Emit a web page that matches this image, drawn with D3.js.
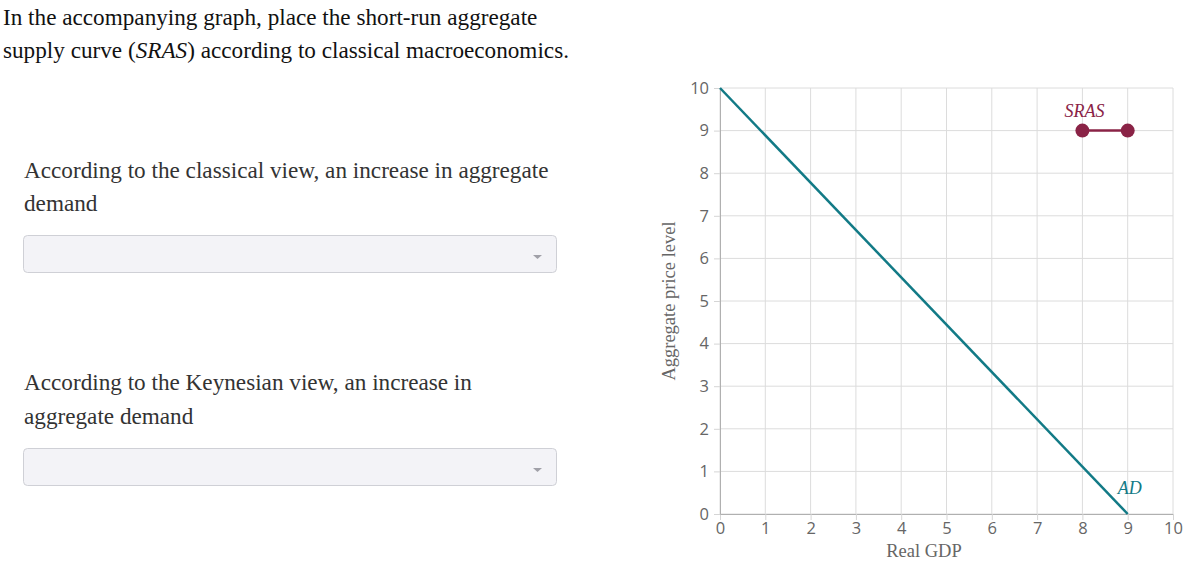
<!DOCTYPE html>
<html>
<head>
<meta charset="utf-8">
<script src="https://cdn.jsdelivr.net/npm/d3@7"></script>
<style>
  html, body { margin: 0; padding: 0; background: #fff; }
  svg { display: block; }
</style>
</head>
<body>
<svg id="chart" width="1200" height="586"></svg>
<script>
// ---- data ----
const xTickValues = [0, 1, 2, 3, 4, 5, 6, 7, 8, 9, 10];
const yTickValues = [0, 1, 2, 3, 4, 5, 6, 7, 8, 9, 10];
const adX = [0, 9];
const adY = [10, 0];
const srasX = [8, 9];
const srasY = [9, 9];
const xTitle = "Real GDP";
const yTitle = "Aggregate price level";
const promptLines = ["In the accompanying graph, place the short-run aggregate",
                     "supply curve (|SRAS|) according to classical macroeconomics."];
const q1Lines = ["According to the classical view, an increase in aggregate", "demand"];
const q2Lines = ["According to the Keynesian view, an increase in", "aggregate demand"];

const svg = d3.select("#chart");
const serif = "'Liberation Serif', 'Times New Roman', serif";
const sans = "'Open Sans', 'DejaVu Sans', sans-serif";

// ---- left text ----
function writeLine(y, x, str, color) {
  const t = svg.append("text").attr("x", x).attr("y", y)
    .attr("font-family", serif).attr("font-size", 23.2).attr("fill", color);
  str.split("|").forEach((part, i) => {
    t.append("tspan").text(part).attr("font-style", i % 2 === 1 ? "italic" : "normal");
  });
}
writeLine(25, 3, promptLines[0], "#111");
writeLine(58, 3, promptLines[1], "#111");
writeLine(178, 24, q1Lines[0], "#333");
writeLine(211, 24, q1Lines[1], "#333");
writeLine(390, 24, q2Lines[0], "#333");
writeLine(424, 24, q2Lines[1], "#333");

function dropdown(y) {
  svg.append("rect").attr("x", 23.5).attr("y", y + 0.5).attr("width", 533).attr("height", 37)
    .attr("rx", 4).attr("fill", "#f3f3f7").attr("stroke", "#cfd0d6");
  svg.append("path").attr("d", `M533,${y + 20} l9,0 l-4.5,4 z`).attr("fill", "#a0a0a8");
}
dropdown(235);
dropdown(448);

// ---- chart ----
const x = d3.scaleLinear().domain([0, 10]).range([720, 1173]);
const y = d3.scaleLinear().domain([0, 10]).range([514, 88]);

const g = svg.append("g");
// grid
g.selectAll(".vg").data(xTickValues).enter().append("line")
  .attr("x1", d => x(d)).attr("x2", d => x(d)).attr("y1", y(0)).attr("y2", y(10))
  .attr("stroke", "#dcdcdc").attr("stroke-width", 1);
g.selectAll(".hg").data(yTickValues).enter().append("line")
  .attr("x1", x(0)).attr("x2", x(10)).attr("y1", d => y(d)).attr("y2", d => y(d))
  .attr("stroke", "#dcdcdc").attr("stroke-width", 1);

// axes
const xAxis = d3.axisBottom(x).tickValues(xTickValues).tickSize(6).tickPadding(2);
const yAxis = d3.axisLeft(y).tickValues(yTickValues).tickSize(6).tickPadding(5);
const gx = svg.append("g").attr("transform", `translate(0,${y(0)})`).call(xAxis);
const gy = svg.append("g").attr("transform", `translate(${x(0)},0)`).call(yAxis);
[gx, gy].forEach(a => {
  a.select(".domain").attr("stroke", "#b0b0b0");
  a.selectAll(".tick line").attr("stroke", "#d5d5d5");
  a.selectAll(".tick text").attr("fill", "#666").attr("font-family", sans).attr("font-size", 16.5);
});

// axis titles
svg.append("text").attr("x", 924).attr("y", 557).attr("text-anchor", "middle")
  .attr("font-family", serif).attr("font-size", 18.5).attr("fill", "#666").text(xTitle);
svg.append("text").attr("transform", `translate(675,${(y(0) + y(10)) / 2}) rotate(-90)`)
  .attr("text-anchor", "middle")
  .attr("font-family", serif).attr("font-size", 18.5).attr("fill", "#666").text(yTitle);

// AD line
const adPts = adX.map((v, i) => [v, adY[i]]);
const line = d3.line().x(d => x(d[0])).y(d => y(d[1]));
svg.append("path").datum(adPts).attr("d", line).attr("fill", "none")
  .attr("stroke", "#127a86").attr("stroke-width", 2.5);
svg.append("text").attr("x", x(9) + 2).attr("y", y(0) - 20).attr("text-anchor", "middle")
  .attr("font-family", serif).attr("font-style", "italic").attr("font-size", 18)
  .attr("fill", "#127a86").text("AD");

// SRAS
const srasPts = srasX.map((v, i) => [v, srasY[i]]);
svg.append("path").datum(srasPts).attr("d", line).attr("fill", "none")
  .attr("stroke", "#8a2346").attr("stroke-width", 2.5);
svg.selectAll(".sp").data(srasPts).enter().append("circle")
  .attr("cx", d => x(d[0])).attr("cy", d => y(d[1])).attr("r", 7)
  .attr("fill", "#8a2346");
svg.append("text").attr("x", x(8) + 2).attr("y", y(9) - 14).attr("text-anchor", "middle")
  .attr("font-family", serif).attr("font-style", "italic").attr("font-size", 18)
  .attr("fill", "#8a2346").text("SRAS");
</script>
</body>
</html>
